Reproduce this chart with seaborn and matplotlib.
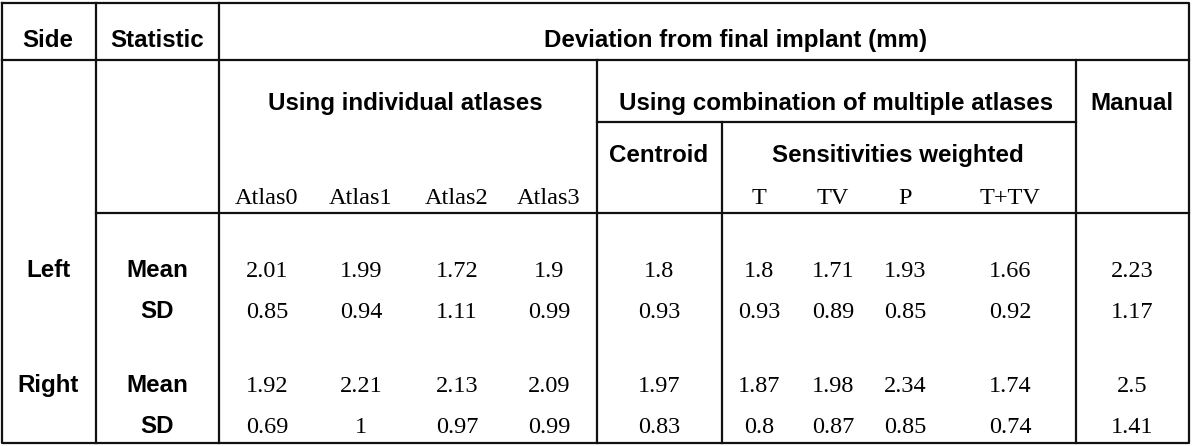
import numpy as np
import pandas as pd
import matplotlib
matplotlib.use("Agg")
import matplotlib.pyplot as plt
import seaborn as sns

# dati della tabella (deviazione dall'impianto finale, mm)
col_labels = ["Atlas0", "Atlas1", "Atlas2", "Atlas3", "Centroid",
              "T", "TV", "P", "T+TV", "Manual"]
left_mean = [2.01, 1.99, 1.72, 1.9, 1.8, 1.8, 1.71, 1.93, 1.66, 2.23]
left_sd = [0.85, 0.94, 1.11, 0.99, 0.93, 0.93, 0.89, 0.85, 0.92, 1.17]
right_mean = [1.92, 2.21, 2.13, 2.09, 1.97, 1.87, 1.98, 2.34, 1.74, 2.5]
right_sd = [0.69, 1, 0.97, 0.99, 0.83, 0.8, 0.87, 0.85, 0.74, 1.41]
sides = ["Left", "Right"]
stats = ["Mean", "SD"]

table = pd.DataFrame([left_mean, left_sd, right_mean, right_sd],
                     columns=col_labels,
                     index=pd.MultiIndex.from_product([sides, stats]))

# %%
sns.set_theme(style="white")
plt.rcParams['font.family'] = ['Liberation Sans', 'DejaVu Sans']
plt.rcParams['text.color'] = 'black'

W, H = 1194, 446
fig = plt.figure(figsize=(W / 100, H / 100), dpi=100)
ax = fig.add_axes([0, 0, 1, 1])
ax.set_xlim(0, W)
ax.set_ylim(H, 0)
ax.axis("off")

line_kw = dict(color="#111111", lw=1.6, solid_capstyle="projecting")

# bordi e griglia
left, right, top, bottom = 2, 1189, 3, 443
ax.plot([left, right, right, left, left], [top, top, bottom, bottom, top], **line_kw)
ax.plot([left, right], [60, 60], **line_kw)
ax.plot([597, 1076], [122, 122], **line_kw)
ax.plot([96, right], [213, 213], **line_kw)
ax.plot([96, 96], [top, bottom], **line_kw)
ax.plot([219, 219], [top, bottom], **line_kw)
ax.plot([597, 597], [60, bottom], **line_kw)
ax.plot([722, 722], [122, bottom], **line_kw)
ax.plot([1076, 1076], [60, bottom], **line_kw)

bold = dict(fontsize=17.4, fontweight="bold", ha="center", va="baseline",
            color="black", family=["Liberation Sans", "DejaVu Sans"])
serif = dict(fontsize=17.5, ha="center", va="baseline", color="black",
             family=["Liberation Serif", "DejaVu Serif"])

# intestazioni
ax.text(48, 47, "Side", **bold)
ax.text(157, 47, "Statistic", **bold)
ax.text(736, 47, "Deviation from final implant (mm)", **bold)
ax.text(405, 110, "Using individual atlases", **bold)
ax.text(836, 110, "Using combination of multiple atlases", **bold)
ax.text(1132, 110, "Manual", **bold)
ax.text(659, 162, "Centroid", **bold)
ax.text(898, 162, "Sensitivities weighted", **bold)

col_x = [267, 361, 457, 549, 659, 759, 833, 905, 1010, 1132]
for x, lab in zip(col_x, col_labels):
    if lab in ("Centroid", "Manual"):
        continue
    ax.text(x, 204, lab, **serif)

# righe dei valori
row_y = [277, 318, 392, 433]
for (side, stat), y in zip(table.index, row_y):
    if stat == "Mean":
        ax.text(48, y, side, **bold)
    ax.text(157, y, stat, **bold)
    for x, v in zip(col_x, table.loc[(side, stat)]):
        ax.text(x, y, f"{v:g}", **serif)

fig.savefig("out.png", dpi=100, facecolor="white")
